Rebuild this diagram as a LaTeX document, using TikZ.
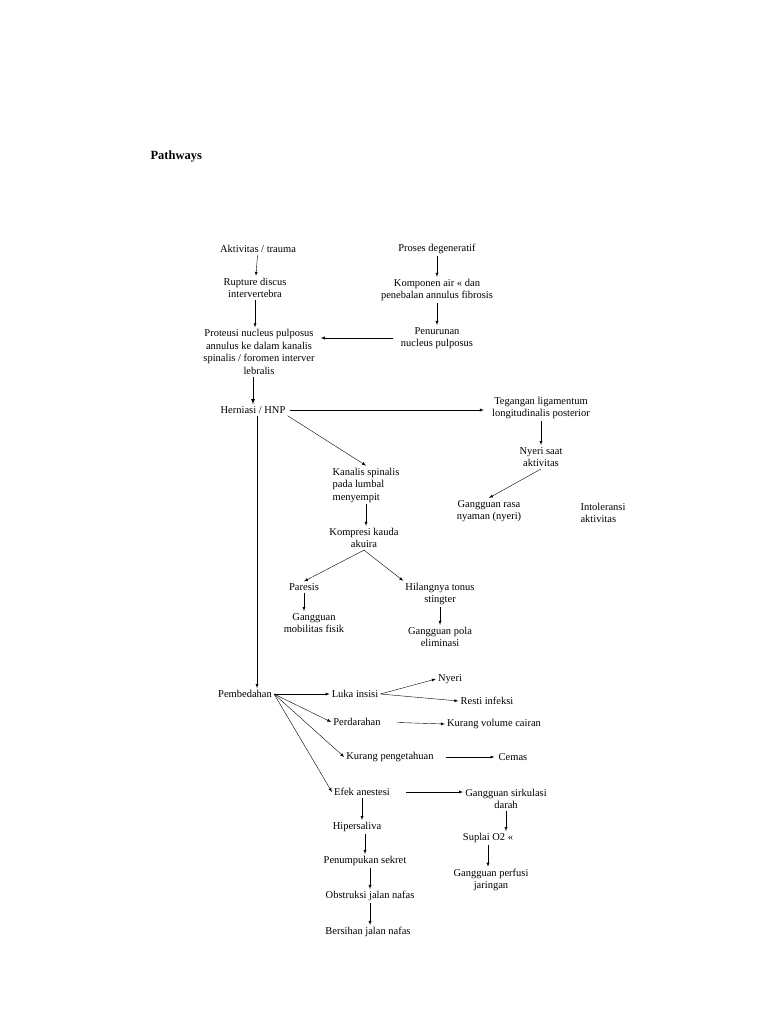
\documentclass[tikz,border=0pt]{standalone}
\usepackage{fontspec}
\setmainfont{Liberation Serif}
\usepackage{amsmath}
\begin{document}
\begin{tikzpicture}[x=1pt,y=-1pt,
    lbl/.style={align=center,inner sep=2pt,font=\fontsize{10.5}{12.5}\selectfont},
    arr/.style={-latex,black}]
        \useasboundingbox (0,0) rectangle (768,1024);
        \node[font=\bfseries\fontsize{12.5}{14}\selectfont,anchor=west] (title) at (147,157) {Pathways};
        % left column
        \node[lbl] (akt) at (258,249) {Aktivitas / trauma};
        \node[lbl] (rup) at (255,288) {Rupture discus\\intervertebra};
        \node[lbl] (prot) at (259,352) {Proteusi nucleus pulposus\\annulus ke dalam kanalis\\spinalis / foromen interver\\lebralis};
        \node[lbl] (hern) at (253,410) {Herniasi / HNP};
        % right column
        \node[lbl] (pros) at (437,249) {Proses degeneratif};
        \node[lbl] (komp) at (437,290) {Komponen air << dan\\penebalan annulus fibrosis};
        \node[lbl] (penu) at (437,338) {Penurunan\\nucleus pulposus};
        \node[lbl] (teg) at (541,408) {Tegangan ligamentum\\longitudinalis posterior};
        \node[lbl] (nyak) at (541,457) {Nyeri saat\\aktivitas};
        \node[lbl] (rasa) at (489,511) {Gangguan rasa\\nyaman (nyeri)};
        \node[lbl,align=left] (intol) at (603,513) {Intoleransi\\aktivitas};
        \node[lbl,align=left] (kan) at (366,485) {Kanalis spinalis\\pada lumbal\\menyempit};
        \node[lbl] (kompr) at (364,538) {Kompresi kauda\\akuira};
        \node[lbl] (par) at (304,587) {Paresis};
        \node[lbl] (mob) at (314,623) {Gangguan\\mobilitas fisik};
        \node[lbl] (hil) at (440,594) {Hilangnya tonus\\stingter};
        \node[lbl] (pola) at (440,637) {Gangguan pola\\eliminasi};
        % pembedahan
        \node[lbl] (pemb) at (245,694) {Pembedahan};
        \node[lbl] (luka) at (355,694) {Luka insisi};
        \node[lbl] (nyr) at (450,679) {Nyeri};
        \node[lbl] (rest) at (487,701) {Resti infeksi};
        \node[lbl] (perd) at (357,722) {Perdarahan};
        \node[lbl] (vol) at (494,724) {Kurang volume cairan};
        \node[lbl] (peng) at (390,757) {Kurang pengetahuan};
        \node[lbl] (cem) at (513,757) {Cemas};
        \node[lbl] (efek) at (362,792) {Efek anestesi};
        \node[lbl] (sirk) at (506,799) {Gangguan sirkulasi\\darah};
        \node[lbl] (hip) at (357,827) {Hipersaliva};
        \node[lbl] (supl) at (488,838) {Suplai O2 <<};
        \node[lbl] (sek) at (365,861) {Penumpukan sekret};
        \node[lbl] (perf) at (491,880) {Gangguan perfusi\\jaringan};
        \node[lbl] (obs) at (370,896) {Obstruksi jalan nafas};
        \node[lbl] (ber) at (368,932) {Bersihan jalan nafas};
        % arrows
        \draw[arr] (akt) -- (rup);
        \draw[arr] (rup) -- (rup|-prot.north);
        \draw[arr] (pros) -- (komp);
        \draw[arr] (komp) -- (komp|-penu.north);
        \draw[arr,shorten <=6pt,shorten >=4pt] (penu.west) -- (prot.east|-penu.west);
        \draw[arr,thick] (prot.south-|hern) -- (hern);
        \draw[arr,shorten <=2pt,shorten >=6pt] (hern.east) -- (teg.west|-hern.east);
        \draw[arr] (hern.south east) -- (kan.north);
        \draw[arr] ([xshift=4pt]hern.south) -- ([xshift=4pt]hern.south|-pemb.north);
        \draw[arr] (teg) -- (nyak);
        \draw[arr] (nyak.south) -- (rasa.north);
        \draw[arr] (kan) -- (kan.south|-kompr.north);
        \draw[arr] (kompr.south) -- (par.north);
        \draw[arr] (kompr.south) -- (hil.north west);
        \draw[arr] (par) -- (par|-mob.north);
        \draw[arr] (hil) -- (pola);
        \draw[arr] (pemb.east) -- (luka.west);
        \draw[arr] (pemb.east) -- (perd.west);
        \draw[arr] (pemb.east) -- (peng.west);
        \draw[arr] (pemb.east) -- (efek.west);
        \draw[arr] (luka.east) -- (nyr.west);
        \draw[arr] (luka.east) -- (rest.west);
        \draw[arr,shorten <=14pt] (perd.east) -- (vol.west);
        \draw[arr,shorten <=10pt,shorten >=2pt] (peng.east) -- (cem.west);
        \draw[arr,shorten <=14pt] (efek.east) -- (sirk.west|-efek.east);
        \draw[arr] (efek) -- (efek|-hip.north);
        \draw[arr] (hip.south-|sek) -- (sek);
        \draw[arr] (sek.south-|obs) -- (obs);
        \draw[arr] (obs) -- (obs|-ber.north);
        \draw[arr] (sirk) -- (sirk|-supl.north);
        \draw[arr] (supl) -- (supl|-perf.north);
\end{tikzpicture}
\end{document}
